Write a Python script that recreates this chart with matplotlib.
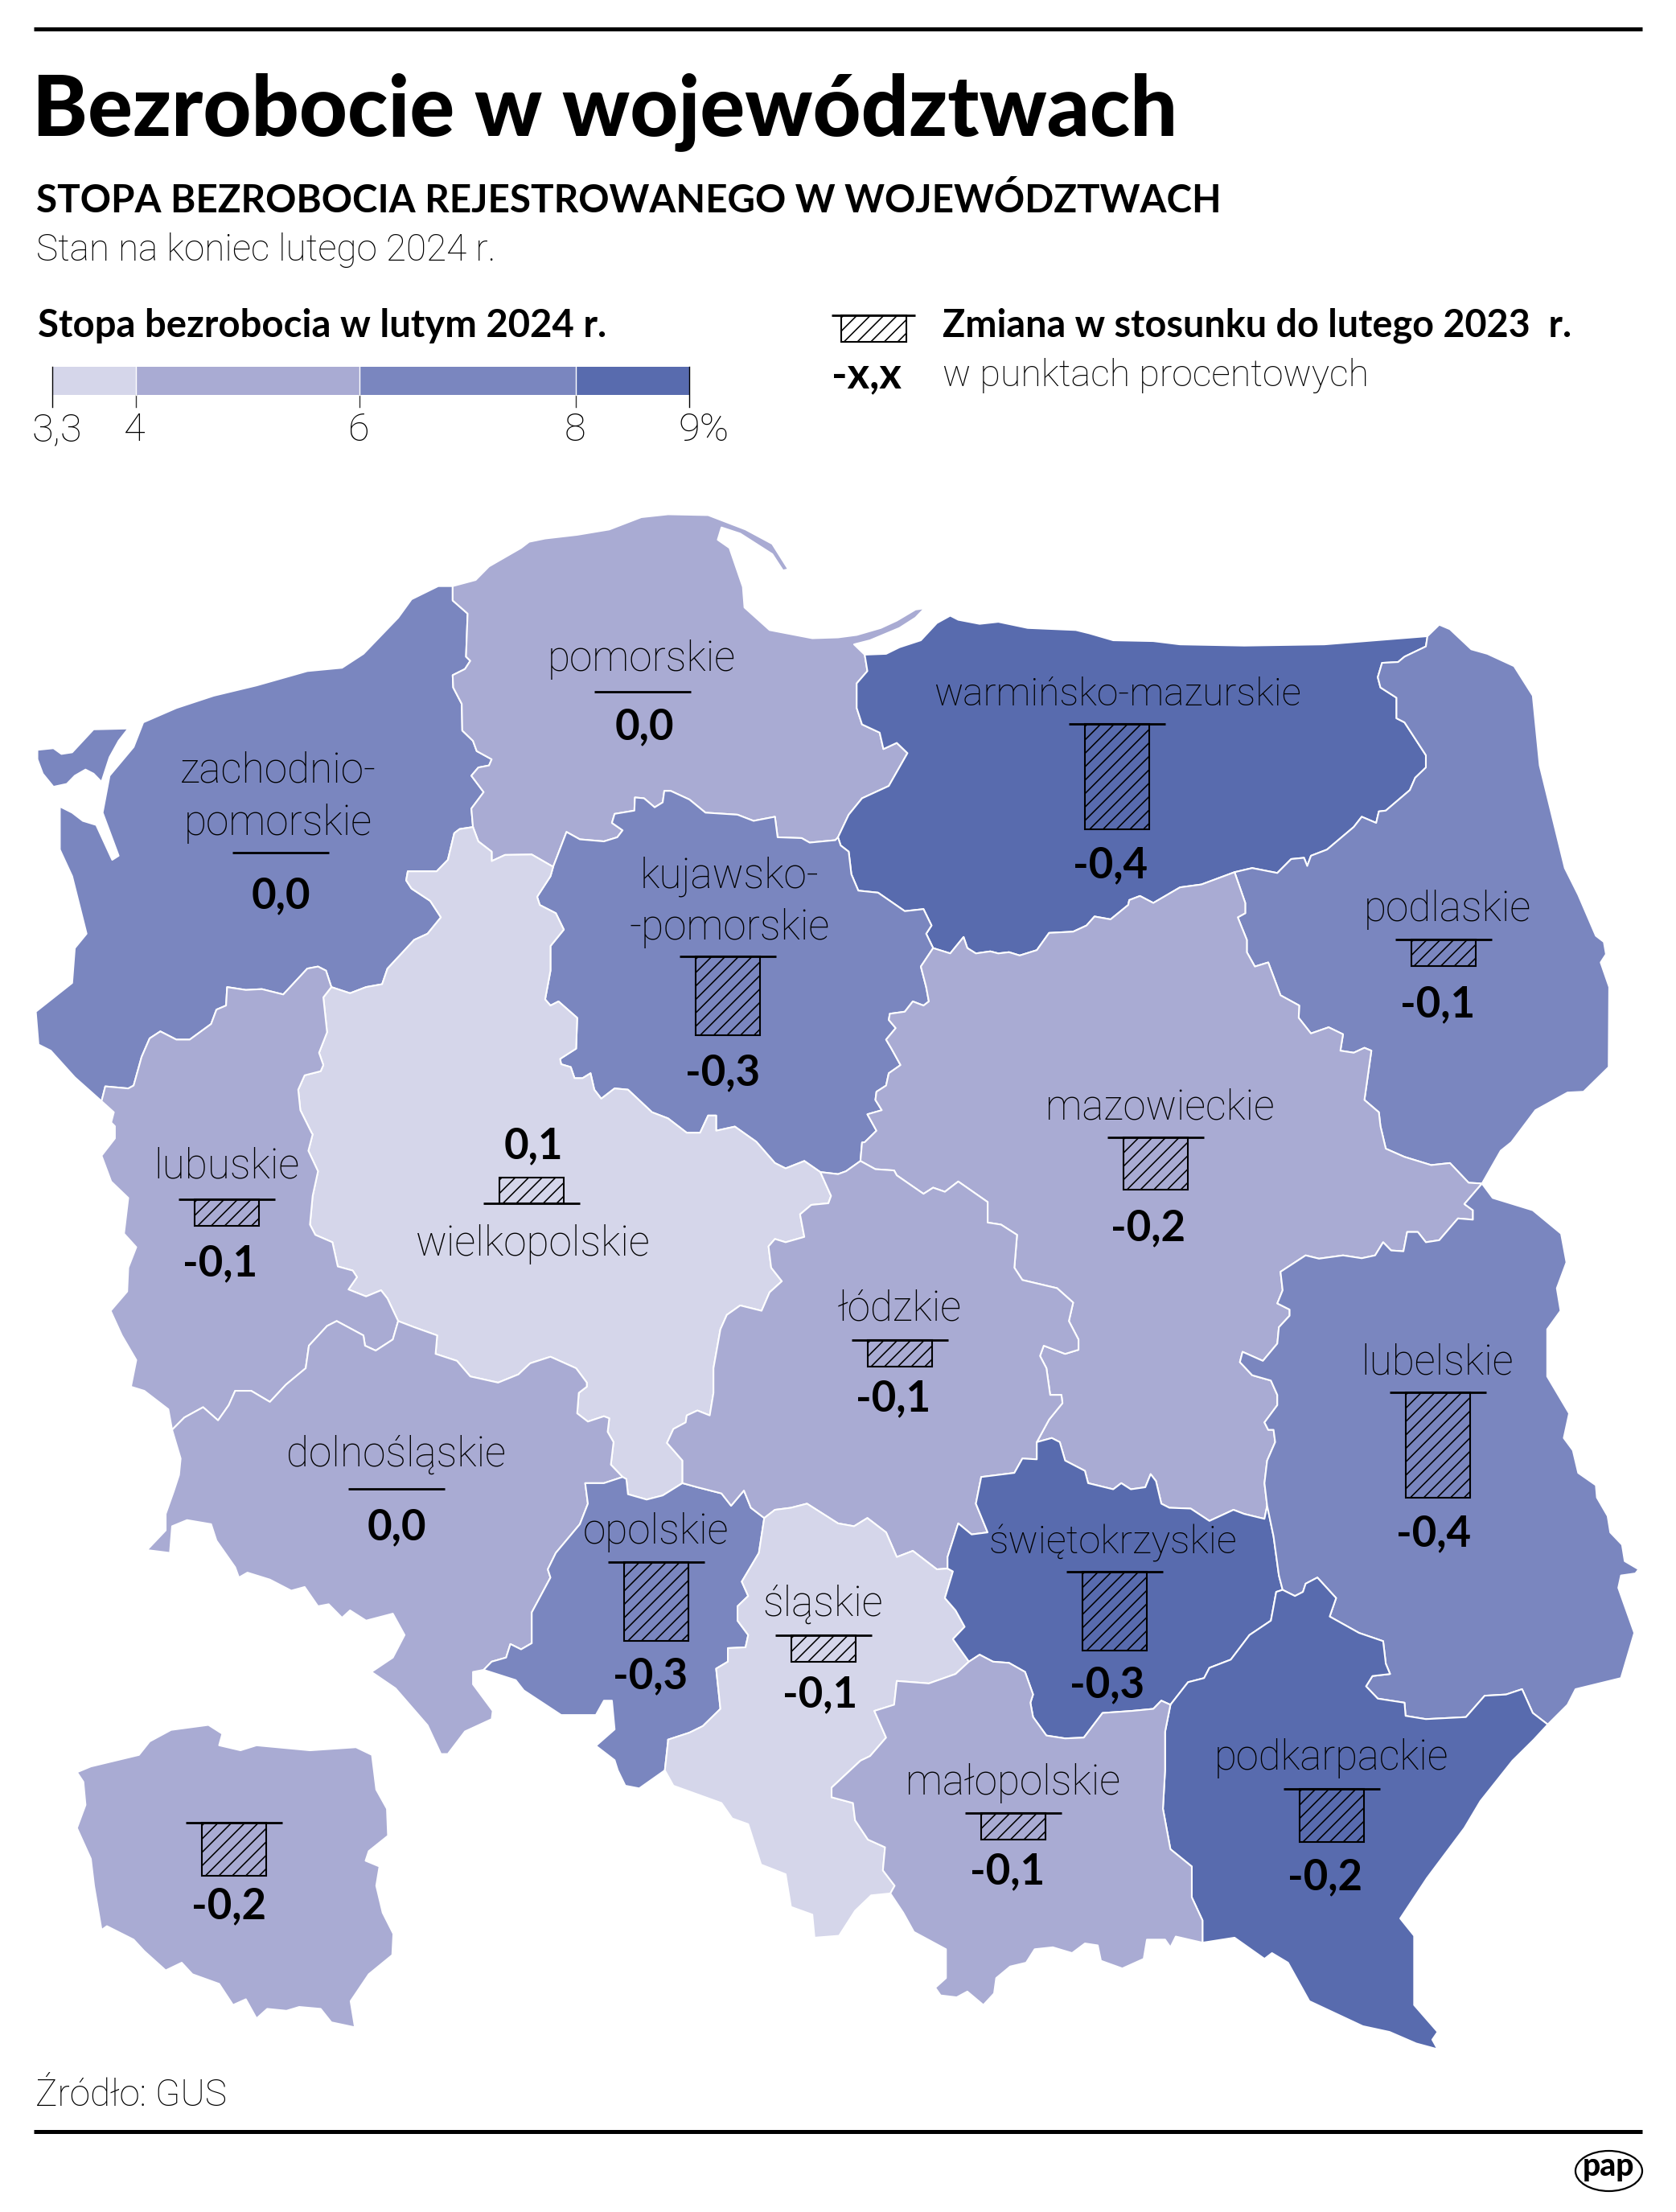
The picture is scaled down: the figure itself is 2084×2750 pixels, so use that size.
import numpy as np
import matplotlib
matplotlib.use("Agg")
import matplotlib.pyplot as plt
from matplotlib.patches import Polygon, Ellipse

plt.rcParams['font.family'] = ['Lato', 'DejaVu Sans']

C1, C2, C3, C4 = '#D5D6EA', '#A9ABD3', '#7A86BF', '#586BAE'

# ---- legend data
LEG_VALUES = ['3,3', '4', '6', '8', '9%']
LEG_COLORS = [C1, C2, C3, C4]

# ---- region labels and values
REGIONS = ['pomorskie', 'zachodnio-\npomorskie', 'warmińsko-mazurskie', 'kujawsko-\n-pomorskie', 'podlaskie',
           'mazowieckie', 'wielkopolskie', 'lubuskie', 'łódzkie', 'lubelskie', 'dolnośląskie', 'opolskie',
           'świętokrzyskie', 'śląskie', 'małopolskie', 'podkarpackie', '']
CHANGE = [0.0, 0.0, -0.4, -0.3, -0.1, -0.2, 0.1, -0.1, -0.1, -0.4, 0.0, -0.3, -0.3, -0.1, -0.1, -0.2, -0.2]
# placement in display units: bar x, bar line y, name baseline, value x, value baseline
NAME_X = [455, 197, 792, 517, 1026, 822, 378, 161, 638, 1019, 281, 465, 789, 583, 718, 944, 0]
LINE_X = [455.5, 199, 792, 516, 1023, 819, 377, 161, 638, 1019, 281, 465, 790, 584, 718, 944, 166]
LINE_Y = [490, 604, 513, 678, 666, 806, 853, 850, 950, 987, 1055, 1107, 1114, 1159, 1285, 1268, 1292]
NAME_Y = [475.5, 591.5, 500, 666, 653, 793, 890, 835, 936, 974, 1039, 1094, 1101, 1145, 1272, 1254, 0]
NAME_PT = [37, 37, 34.5, 37, 37, 36.5, 37, 37, 37, 37, 37, 37, 35.5, 37, 37, 36.5, 37]
VAL_X = [457, 199, 787, 512, 1019, 814, 378, 156, 633, 1016, 281, 461, 785, 581, 714, 939, 162]
VAL_Y = [524, 643.5, 622, 769, 721, 879, 821, 904, 1000, 1096, 1091.5, 1197, 1203, 1210, 1335, 1339, 1360]


def tl(p): return [(x / 1.5048, 620 + y / 1.96) for x, y in p]
def tr(p): return [(1042 + x / 1.5048, 620 + y / 1.96) for x, y in p]
def bl(p): return [(x / 1.5048, 1400 + y / 1.96) for x, y in p]
def br(p): return [(1042 + x / 1.5048, 1400 + y / 1.96) for x, y in p]
def bt(p): return [(x / 0.7524, 2000 + y / 2.0907) for x, y in p]
def rev(p): return p[::-1]


Z_P = tl([(847,213),(847,248),(875,280),(872,385),(880,395),(870,415),(847,430),(848,460),(864,500),(865,565),(885,590),(892,615),(920,635),(915,650),(895,655),(882,675),(905,715),(882,755),(885,800)])
P_W = tl([(885,800),(895,835),(920,860),(920,883),(945,868),(995,867),(1035,897)])
P_K = tl([(1035,897),(1060,812),(1085,830),(1130,835),(1155,825),(1165,808),(1145,790),(1150,768),(1187,760),(1188,728),(1205,730),(1225,752),(1240,740),(1243,712),(1255,712),(1290,733),(1320,765),(1380,770),(1410,785),(1450,775),(1455,825),(1500,827),(1515,838),(1563,832)]) + tr([(0,825)])
P_WM = tr([(0,825),(20,770),(45,730),(95,700),(130,620),(110,595),(85,610),(78,570),(45,550),(35,510),(35,450),(55,420),(50,380)])
K_WM = tr([(0,825),(5,845),(20,860),(25,915),(38,955),(75,960),(125,1005),(160,1000),(175,1040),(165,1060),(178,1095)])
K_MAZ = tr([(178,1095),(155,1140),(165,1190),(170,1225),(160,1235),(140,1225),(125,1250),(97,1255),(95,1270),(108,1290),(90,1318),(100,1340),(117,1380),(95,1400),(90,1430),(72,1445),(70,1465),(82,1490),(55,1500),(72,1540),(50,1568)]) + br([(45,40),(42,85)])
K_L = br([(42,85),(15,110),(0,117)]) + bl([(1535,112)])
K_W = tl([(1035,897),(1030,920),(1005,970),(1010,990),(1040,1010),(1055,1050),(1030,1090),(1030,1150),(1020,1220),(1030,1235),(1045,1225),(1080,1265),(1078,1340),(1048,1365),(1050,1378),(1068,1385),(1075,1412),(1090,1412),(1105,1400),(1112,1440),(1125,1462),(1150,1437),(1175,1440),(1220,1495),(1250,1510),(1285,1545),(1310,1545),(1325,1503),(1340,1503),(1340,1540),(1375,1530)]) + bl([(1415,38),(1450,90),(1470,103),(1505,85),(1535,112)])
W_LD = bl([(1535,112),(1555,170),(1550,188),(1518,192),(1497,215),(1505,270),(1470,283),(1450,275),(1438,293),(1443,345),(1463,378),(1440,405),(1425,450),(1385,437),(1360,460),(1348,495),(1335,590),(1335,650),(1328,705),(1305,693),(1285,705),(1283,722),(1260,738),(1248,772),(1277,815),(1277,870)])
W_OP = bl([(1277,870),(1240,900),(1210,910),(1175,897),(1172,860),(1165,855)])
W_D = bl([(1165,855),(1143,825),(1148,770),(1137,745),(1140,712),(1130,707),(1100,720),(1080,700),(1083,650),(1098,635),(1098,625),(1078,590),(1030,562),(992,578),(970,605),(932,625),(880,610),(855,572),(815,555),(818,510),(775,490),(745,475)])
W_L = bl([(745,475),(725,420),(713,400),(685,415),(652,398),(668,368),(660,352),(632,342),(622,283),(590,265),(580,240),(585,170),(595,110),(577,60),(585,20)]) + tl([(583,1545),(562,1490),(558,1440),(570,1405),(600,1395),(605,1380),(597,1350),(612,1300),(605,1215),(620,1190)])
W_Z = tl([(620,1190),(655,1205),(685,1190),(715,1183),(725,1145),(775,1075),(800,1060),(825,1020),(805,980),(770,950),(760,930),(763,908),(817,908),(838,880),(850,815),(860,805),(885,800)])
L_Z = tl([(620,1190),(610,1150),(595,1140),(575,1145),(530,1208),(490,1195),(460,1197),(425,1190),(423,1235),(405,1245),(395,1280),(355,1318),(330,1318),(300,1298),(280,1315),(265,1360),(250,1430),(240,1437),(197,1432),(190,1468)])
L_D = bl([(745,475),(735,520),(703,547),(683,535),(680,510),(630,475),(612,487),(578,535),(572,590),(535,630),(505,672),(470,645),(440,645),(428,680),(408,717),(380,685),(345,710),(322,740)])
D_OP = bl([(1165,855),(1130,870),(1095,870),(1100,920),(1085,970),(1040,1040),(1025,1080),(1030,1100),(995,1185),(995,1260),(975,1275),(955,1262),(947,1295),(920,1305),(905,1325)])
OP_L = bl([(1277,870),(1305,880),(1350,895),(1368,925),(1392,888),(1405,930),(1430,955)])
OP_SL = bl([(1430,955),(1420,1040),(1388,1110),(1400,1145),(1380,1170),(1380,1205),(1400,1240),(1395,1270),(1362,1272),(1362,1305),(1340,1322),(1348,1420),(1315,1462),(1290,1478),(1250,1495)]) + bt([(625,345),(622,420)])
L_SL = bl([(1430,955),(1450,935),(1480,930),(1510,920)]) + br([(0,968),(30,975),(55,955),(90,990),(110,1050),(140,1035),(185,1080),(205,1078)])
L_SW = br([(205,1078),(205,1050),(225,968),(250,995),(280,990),(258,920),(268,855),(330,845),(345,810),(372,812),(372,770)])
L_MAZ = br([(372,770),(395,715),(420,675),(418,655),(397,655),(390,590),(378,560),(385,535),(425,555),(450,545),(450,520),(432,475),(440,430),(410,395),(345,375),(330,345),(335,265),(305,240),(280,235),(280,185),(225,135),(200,160),(178,150),(160,165),(110,120),(105,108),(70,105),(42,85)])
MAZ_SW = br([(372,770),(400,760),(415,770),(425,815),(462,840),(468,870),(515,885),(530,870),(548,885),(575,880),(585,848),(595,865),(605,920),(620,930),(660,932),(695,962),(740,935),(760,945),(798,957),(803,925)])
MAZ_LUB = br([(803,925),(798,870),(803,815),(818,770),(815,740),(805,740),(798,722),(822,680),(822,655),(810,620),(775,607),(752,575),(757,550),(795,572),(822,530),(825,490),(845,462),(845,447),(822,432),(832,400),(828,355),(875,315),(900,323),(945,315),(980,322),(1005,315),(1020,283),(1035,303),(1058,305),(1065,258),(1085,258),(1100,283),(1125,278),(1160,225),(1188,228),(1188,205),(1172,190),(1205,140)])
MAZ_POD = br([(1205,140),(1180,138),(1145,90),(1110,95),(1060,75),(1025,55)]) + tr([(1015,1529),(1012,1495),(985,1465),(998,1345),(985,1338),(965,1350),(940,1345),(945,1305),(918,1288),(885,1303),(862,1265),(863,1235),(828,1210),(805,1130),(780,1140),(765,1105),(765,1075),(748,1020),(762,1010),(762,985),(742,910)])
MAZ_WM = tr([(178,1095),(210,1108),(235,1068),(242,1095),(258,1108),(285,1103),(300,1108),(320,1105),(340,1113),(372,1100),(395,1058),(440,1055),(465,1040),(480,1018),(510,1025),(543,990),(545,978),(565,968),(590,985),(640,947),(680,940),(742,910)])
WM_POD = tr([(742,910),(775,900),(822,912),(848,878),(872,875),(878,895),(885,870),(915,855),(965,800),(980,775),(1007,790),(1012,762),(1025,760),(1070,710),(1080,680),(1100,655),(1100,625),(1060,545),(1045,535),(1045,485),(1015,460),(1010,435),(1018,400),(1048,398),(1060,385),(1100,360),(1103,335)])
WM_COAST = tr([(50,380),(90,378),(115,362),(155,345),(185,303),(210,285),(225,295),(265,305),(300,300),(355,315),(445,320),(470,328),(515,345),(590,347),(640,355),(760,358),(910,355),(1103,335)])
POD_OUT = tr([(1103,335),(1125,307),(1145,318),(1185,367),(1215,378),(1265,408),(1300,480),(1313,650),(1360,900),(1385,965),(1418,1065),(1433,1080),(1437,1110),(1427,1130),(1443,1190),(1442,1385),(1395,1445),(1365,1447),(1305,1490),(1260,1568)]) + br([(1240,60),(1205,140)])
LUB_OUT = br([(1205,140),(1225,175),(1300,205),(1353,262),(1363,332),(1345,395),(1352,450),(1327,495),(1327,610),(1368,700),(1358,760),(1375,790),(1385,845),(1418,875),(1420,905),(1440,950),(1445,990),(1467,1020),(1472,1060),(1498,1080),(1492,1090),(1465,1095),(1460,1125),(1490,1235),(1465,1345),(1380,1372),(1365,1410),(1328,1458)])
SW_LUB = br([(803,925),(815,1000),(825,1095),(832,1130)])
LUB_PK = br([(832,1130),(855,1145),(870,1135),(875,1115),(897,1100),(932,1150),(920,1195),(975,1235),(1020,1255),(1025,1310),(1033,1335),(1000,1340),(988,1365),(1010,1395),(1060,1405),(1062,1437),(1100,1445),(1175,1440),(1210,1388),(1250,1385),(1280,1372),(1300,1430),(1328,1458)])
SW_PK = br([(832,1130),(820,1135),(810,1205),(770,1240),(735,1300),(695,1320),(685,1345),(655,1355),(622,1410)])
SW_MAL = br([(622,1410),(605,1400),(590,1420),(550,1425),(495,1430),(460,1490),(425,1492),(390,1485),(365,1440),(360,1405),(365,1385),(350,1330),(320,1308),(290,1305),(265,1288),(245,1305)])
SW_SL = br([(205,1078),(215,1085),(200,1150),(220,1180),(237,1220),(215,1250),(245,1305)])
SL_MAL = br([(245,1305),(220,1335),(170,1358),(110,1352),(105,1410),(68,1425),(90,1490),(60,1535)]) + bt([(805,395),(778,465),(778,490),(798,505),(800,550),(812,600),(828,620),(826,680),(837,720),(833,740)])
SL_OUT = bt([(622,420),(630,460),(675,505),(685,545),(700,560),(712,665),(735,690),(740,775),(760,795),(762,855),(785,850),(800,785),(815,745),(833,740)])
MAL_PK = bt([(1095,250),(1090,320),(1090,420),(1088,520),(1095,625),(1115,670),(1115,750),(1125,810),(1125,868)])
MAL_S = bt([(833,740),(845,790),(855,840),(885,885),(885,960),(875,985),(880,1005),(895,1010),(905,995),(920,1030),(930,1000),(932,960),(945,930),(960,920),(968,885),(985,880),(1003,895),(1015,870),(1027,875),(1030,915),(1050,935),(1070,910),(1073,860),(1090,860),(1095,880),(1100,852),(1125,868)])
PK_OUT = bt([(1448,301),(1435,340),(1415,395),(1385,500),(1370,570),(1335,700),(1310,805),(1323,850),(1323,1030),(1345,1100),(1340,1120),(1345,1145),(1325,1130),(1300,1100),(1275,1085),(1225,1020),(1205,920),(1190,895),(1183,910),(1155,855),(1125,868)])
D_OUT = bl([(322,740),(338,810),(335,850),(325,890),(310,945),(310,985),(275,1033),(318,1040),(322,975),(350,960),(395,970),(405,1010),(440,1075),(447,1100),(463,1088),(505,1105),(545,1132),(570,1123),(595,1170),(615,1165),(640,1198),(655,1180),(685,1205),(735,1188),(757,1240),(735,1295),(695,1330),(740,1370),(800,1460),(825,1530),(838,1530),(870,1475),(920,1445),(922,1425),(885,1360),(885,1330),(905,1325)])
OP_OUT = bl([(905,1325),(965,1350),(980,1375),(1050,1435),(1115,1435),(1130,1400),(1145,1400),(1150,1470),(1115,1510),(1150,1545)]) + bt([(578,420),(585,460),(598,467),(622,420)])
L_OUT = bl([(322,740),(315,690),(270,645),(245,635),(255,570),(228,510),(207,450),(238,403),(240,345),(255,295),(232,262),(240,175),(208,135),(190,72),(215,30)]) + tl([(215,1529),(208,1520),(213,1495),(190,1468)])
Z_OUT = tl([(190,1468),(140,1410),(95,1345),(72,1330),(67,1250),(135,1180),(140,1095),(162,1060),(135,920),(112,855),(112,750),(135,765),(155,785),(180,795),(210,880),(222,870),(192,765),(205,675),(250,605),(268,545),(330,510),(400,480),(480,455),(575,420),(640,412),(680,378),(745,290),(770,245),(820,213),(847,213)])
WOLIN = tl([(70,612),(100,608),(115,622),(135,618),(175,562),(240,560),(222,590),(205,630),(190,690),(175,670),(160,660),(140,675),(125,695),(100,702),(80,670),(70,635)])
P_OUT = tl([(847,213),(890,198),(915,165),(975,120),(990,105),(1020,97),(1080,88),(1140,75),(1200,45),(1250,38),(1325,40),(1395,75),(1445,110),(1475,172),(1465,175),(1445,135),(1415,110),(1385,85),(1350,70),(1343,100),(1365,120),(1390,215),(1393,265),(1440,320),(1520,340)]) + tr([(0,338),(35,332),(80,315),(110,297),(145,270),(162,267),(145,290),(115,315),(60,345),(30,355),(50,380)])
INSET = bt([(85,410),(130,380),(140,345),(160,315),(195,302),(208,325),(205,355),(225,368),(240,355),(290,368),(333,360),(348,380),(352,470),(362,520),(363,590),(345,630),(342,655),(355,670),(352,720),(358,790),(368,845),(367,900),(345,950),(328,1020),(332,1088),(310,1075),(300,1040),(280,1035),(268,1045),(250,1040),(240,1065),(230,1015),(218,1030),(205,975),(180,950),(170,920),(155,940),(135,890),(125,860),(100,825),(95,835),(88,720),(85,650),(72,570),(80,510),(78,450),(72,425)])

SHAPES = [
    (Z_P + rev(W_Z) + L_Z + Z_OUT, C3),
    (WOLIN, C3),
    (P_OUT + rev(P_WM) + rev(P_K) + rev(P_W) + rev(Z_P), C2),
    (WM_COAST + rev(WM_POD) + rev(MAZ_WM) + rev(K_WM) + P_WM, C4),
    (POD_OUT + MAZ_POD + WM_POD, C3),
    (P_K + K_WM + K_MAZ + K_L + rev(K_W), C3),
    (MAZ_WM + rev(MAZ_POD) + rev(MAZ_LUB) + rev(MAZ_SW) + L_MAZ + rev(K_MAZ), C2),
    (W_Z + P_W + K_W + W_LD + W_OP + W_D + W_L, C1),
    (W_L + L_Z + rev(L_OUT) + rev(L_D), C2),
    (L_D + D_OUT + rev(D_OP) + W_D, C2),
    (OP_L + OP_SL + rev(OP_OUT) + rev(D_OP) + rev(W_OP), C3),
    (W_LD + OP_L + L_SL + L_SW + L_MAZ + K_L, C2),
    (L_SL + SW_SL + SL_MAL + rev(SL_OUT) + rev(OP_SL), C1),
    (MAZ_SW + SW_LUB + SW_PK + SW_MAL + rev(SW_SL) + L_SW, C4),
    (LUB_OUT + rev(LUB_PK) + rev(SW_LUB) + MAZ_LUB, C3),
    (LUB_PK + PK_OUT + rev(MAL_PK) + rev(SW_PK), C4),
    (SW_MAL + SL_MAL + MAL_S + rev(MAL_PK), C2),
    (INSET, C2),
]

S = 2084 / 1188
PX_PER_UNIT = 327
BOLD = 'bold'
LIGHT_FONT = ['Roboto', 'DejaVu Sans']

fig = plt.figure(figsize=(20.84, 27.5), dpi=100)
ax = fig.add_axes([0, 0, 1, 1])
ax.set_xlim(0, 2084)
ax.set_ylim(2750, 0)
ax.axis('off')

for pts, col in SHAPES:
    ax.add_patch(Polygon(pts, closed=True, facecolor=col, edgecolor='white', linewidth=1.5, joinstyle='round'))


def txt(x, y, s, size, weight='light', ha='left'):
    fam = LIGHT_FONT if weight == 'light' else ['Lato', 'DejaVu Sans']
    ax.text(x, y, s, fontsize=size, fontweight=weight, family=fam, ha=ha, va='baseline', color='black')


def hatched_bar(xc, top, h, w):
    rect = ax.bar(xc, h, bottom=top, width=w, facecolor='none', edgecolor='black', linewidth=1.5)[0]
    step = 16.7
    for start in np.arange(xc - w / 2 - h + 3, xc + w / 2, step):
        ln, = ax.plot([start, start + h], [top + h, top], color='black', lw=1.15)
        ln.set_clip_path(rect)


# header
ax.plot([42, 2042], [36, 36], color='black', lw=3.6, solid_capstyle='butt')
ax.plot([42, 2042], [2649.5, 2649.5], color='black', lw=3.6, solid_capstyle='butt')
txt(40, 168, 'Bezrobocie w województwach', 75, 'black')
txt(45, 264, 'STOPA BEZROBOCIA REJESTROWANEGO W WOJEWÓDZTWACH', 34.2, BOLD)
txt(45, 324, 'Stan na koniec lutego 2024 r.', 33)
txt(47, 419, 'Stopa bezrobocia w lutym 2024 r.', 34, BOLD)
txt(1172, 418, 'Zmiana w stosunku do lutego 2023  r.', 33.7, BOLD)
txt(1172, 480, 'w punktach procentowych', 33.5)
txt(1034, 482, '-x,x', 38, BOLD)
txt(44, 2618, 'Źródło: GUS', 33)

# colour legend
LEG_X = [65, 169, 447, 716, 857]
LEG_LABEL_X = [71, 167, 446, 715, 875]
for i, c in enumerate(LEG_COLORS):
    ax.bar(LEG_X[i], 35, bottom=456, width=LEG_X[i + 1] - LEG_X[i], align='edge', color=c, edgecolor='none')
for i, x in enumerate(LEG_X):
    top = 456 if i in (0, 4) else 491
    ax.plot([x, x], [top, 506], color='black' if i in (0, 4) else '#333333', lw=1)
    if i in (1, 2, 3):
        ax.plot([x, x], [456, 491], color='white', lw=1)
    txt(LEG_LABEL_X[i], 548, LEG_VALUES[i], 35, ha='center')

# hatched legend key
hatched_bar(1086.5, 392, 33, 81)
ax.plot([1034, 1138], [392, 392], color='black', lw=2, solid_capstyle='butt')

# map labels
for i, name in enumerate(REGIONS):
    lx, ly = LINE_X[i] * S, LINE_Y[i] * S
    v = CHANGE[i]
    h = abs(v) * PX_PER_UNIT
    if v != 0:
        hatched_bar(lx, ly if v < 0 else ly - h, h, 80)
    ax.plot([lx - 60, lx + 60], [ly, ly], color='black', lw=2, solid_capstyle='butt')
    txt(VAL_X[i] * S, VAL_Y[i] * S, f'{v:.1f}'.replace('.', ','), 38, BOLD, ha='center')
    if name:
        lines = name.split('\n')
        for k, line in enumerate(lines):
            yb = NAME_Y[i] * S - (len(lines) - 1 - k) * 37 * S
            txt(NAME_X[i] * S, yb, line, NAME_PT[i], ha='center')

# agency mark
ax.add_patch(Ellipse((2000.5, 2699), 83, 50, facecolor='white', edgecolor='black', linewidth=1.6))
txt(2000.5, 2705, 'pap', 28, 'black', ha='center')

fig.savefig('out.png', dpi=100)
